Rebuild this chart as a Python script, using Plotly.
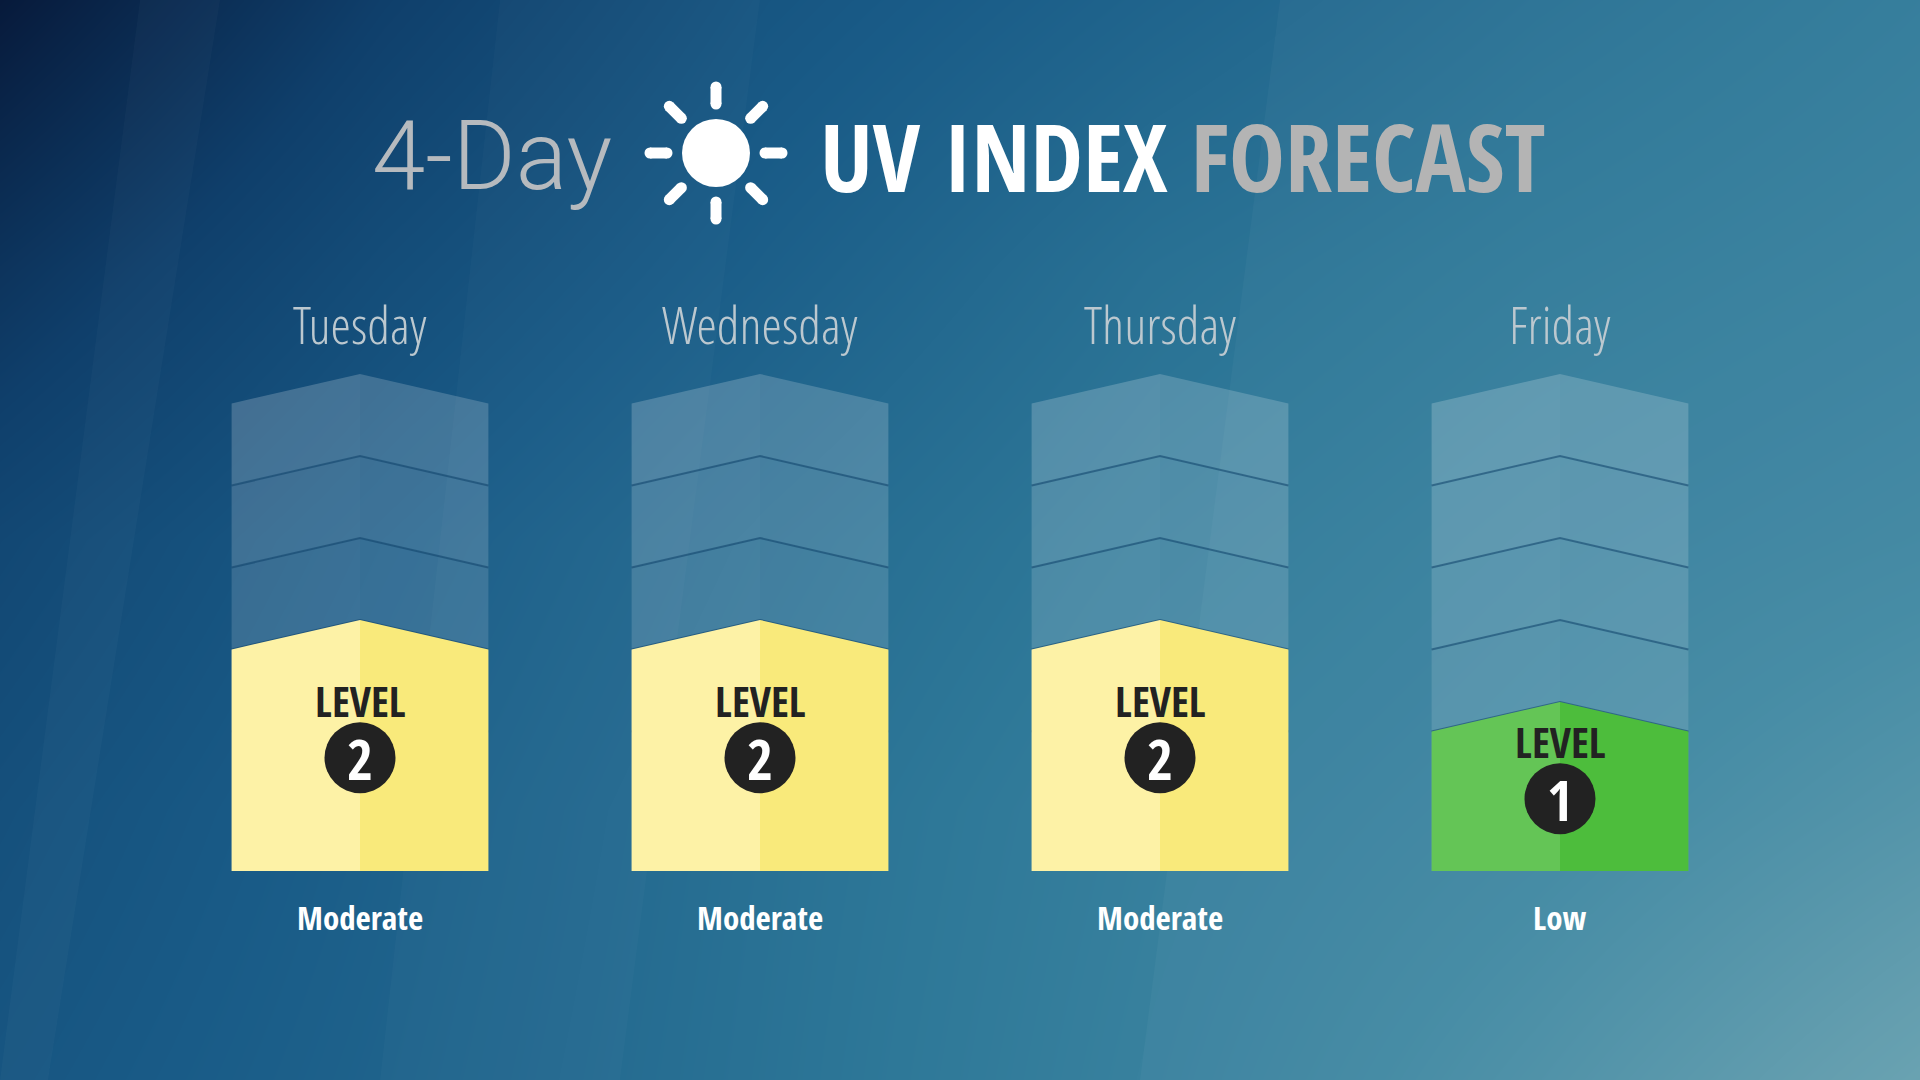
import numpy as np
import plotly.graph_objects as go

# values
days = ["Tuesday", "Wednesday", "Thursday", "Friday"]
uv_level = [2, 2, 2, 1]
risk = ["Moderate", "Moderate", "Moderate", "Low"]
max_level = 5

# left / right face colour of the filled block for each level
level_colors = {1: ("#64c556", "#4dbd3c"), 2: ("#fdf2a6", "#f9ea7b")}

NARROW = "Open Sans Condensed, Roboto Condensed, Liberation Sans Narrow, Roboto, sans-serif"
NARROW_LIGHT = "Open Sans Condensed Light, Roboto Condensed Light, Open Sans Condensed, sans-serif"

# geometry in level units (1 level = one block)
base = 0.70     # extra height under the level-1 shoulder
tip = 0.36      # how far the chevron point sits above the shoulders
half = 0.321    # half bar width in category units


def shoulder(k):
    return 0 if k == 0 else base + k


def apex(k):
    return 0 if k == 0 else base + k + tip


fig = go.Figure()

# background gradient
bg_x = np.linspace(-0.9, 3.9, 6)
bg_y = np.linspace(-2.55, 10.62, 5)
bg_z = [
    [0.36, 0.45, 0.56, 0.68, 0.80, 0.93],
    [0.32, 0.43, 0.55, 0.66, 0.73, 0.82],
    [0.26, 0.39, 0.51, 0.61, 0.68, 0.73],
    [0.14, 0.30, 0.43, 0.55, 0.62, 0.67],
    [0.00, 0.20, 0.36, 0.46, 0.55, 0.62],
]
fig.add_trace(go.Heatmap(
    x=bg_x, y=bg_y, z=bg_z, zsmooth="best", showscale=False, hoverinfo="skip",
    colorscale=[[0, "#071a3b"], [0.2, "#0f3f6b"], [0.4, "#195b87"],
                [0.6, "#2e7898"], [0.75, "#4189a3"], [1, "#74a8b4"]],
    zmin=0, zmax=1,
))

# faint diagonal light streaks
streaks = [
    ([-0.9, -0.78, -0.35, -0.55], [-2.55, -2.55, 10.62, 10.62], 0.025),
    ([1.95, 3.9, 3.9, 2.3], [-2.55, -2.55, 10.62, 10.62], 0.03),
    ([0.05, 0.65, 1.0, 0.35], [-2.55, -2.55, 10.62, 10.62], 0.02),
]
for sx, sy, a in streaks:
    fig.add_trace(go.Scatter(x=sx, y=sy, fill="toself", mode="lines", line_width=0,
                             fillcolor=f"rgba(255,255,255,{a})", hoverinfo="skip"))

for i, (day, lvl) in enumerate(zip(days, uv_level)):
    xl, xc, xr = i - half, i, i + half

    # empty translucent blocks up to the max level
    for k in range(1, max_level + 1):
        a = 0.06 + 0.025 * k
        lo_s, lo_a = shoulder(k - 1), apex(k - 1)
        hi_s, hi_a = shoulder(k), apex(k)
        fig.add_trace(go.Scatter(
            x=[xl, xl, xc, xc], y=[lo_s, hi_s, hi_a, lo_a], fill="toself", mode="lines",
            line_width=0, fillcolor=f"rgba(255,255,255,{a + 0.015:.3f})", hoverinfo="skip"))
        fig.add_trace(go.Scatter(
            x=[xc, xc, xr, xr], y=[lo_a, hi_a, hi_s, lo_s], fill="toself", mode="lines",
            line_width=0, fillcolor=f"rgba(255,255,255,{a:.3f})", hoverinfo="skip"))

    # thin dark chevron lines between blocks
    lx, ly = [], []
    for k in range(1, max_level):
        lx += [xl, xc, xr, None]
        ly += [shoulder(k), apex(k), shoulder(k), None]
    fig.add_trace(go.Scatter(x=lx, y=ly, mode="lines", hoverinfo="skip",
                             line=dict(color="rgba(14,66,106,0.55)", width=2)))

    # filled block for the forecast level
    c_left, c_right = level_colors[lvl]
    fig.add_trace(go.Scatter(
        x=[xl, xl, xc, xc], y=[0, shoulder(lvl), apex(lvl), 0], fill="toself", mode="lines",
        line_width=0, fillcolor=c_left, hoverinfo="skip"))
    fig.add_trace(go.Scatter(
        x=[xc, xc, xr, xr], y=[0, apex(lvl), shoulder(lvl), 0], fill="toself", mode="lines",
        line_width=0, fillcolor=c_right, hoverinfo="skip"))

    mid = apex(lvl) / 2
    fig.add_annotation(x=xc, y=mid + 0.55, text="<b>LEVEL</b>", showarrow=False,
                       yanchor="middle", font=dict(family=NARROW, size=42, color="#222222"))
    # black disc with the level number
    fig.add_trace(go.Scatter(x=[xc], y=[mid - 0.15], mode="markers", hoverinfo="skip",
                             marker=dict(size=71, color="#222222", line_width=0)))
    fig.add_annotation(x=xc, y=mid - 0.15, text=f"<b>{lvl}</b>", showarrow=False,
                       yanchor="middle", font=dict(family=NARROW, size=56, color="#ffffff"))

    fig.add_annotation(x=xc, y=6.67, text=day, showarrow=False, yanchor="middle",
                       font=dict(family=NARROW_LIGHT, weight=300, size=52, color="#bcc8cf"))
    fig.add_annotation(x=xc, y=-0.57, text=f"<b>{risk[i]}</b>", showarrow=False,
                       yanchor="middle", font=dict(family=NARROW, size=33, color="#ffffff"))

# sun icon (pixel overlay axes)
sun_cx, sun_cy, sun_r = 716, 153, 34
rx, ry, ex, ey = [], [], [], []
for ang in np.arange(0, 360, 45):
    t = np.deg2rad(ang)
    x0, y0 = sun_cx + 49 * np.cos(t), sun_cy + 49 * np.sin(t)
    x1, y1 = sun_cx + 66 * np.cos(t), sun_cy + 66 * np.sin(t)
    rx += [x0, x1, None]
    ry += [y0, y1, None]
    ex += [x0, x1]
    ey += [y0, y1]
fig.add_trace(go.Scatter(x=rx, y=ry, mode="lines", xaxis="x2", yaxis="y2", hoverinfo="skip",
                         line=dict(color="white", width=11)))
fig.add_trace(go.Scatter(x=ex, y=ey, mode="markers", xaxis="x2", yaxis="y2", hoverinfo="skip",
                         marker=dict(color="white", size=11, line_width=0)))
fig.add_shape(type="circle", xref="x2", yref="y2", x0=sun_cx - sun_r, x1=sun_cx + sun_r,
              y0=sun_cy - sun_r, y1=sun_cy + sun_r, fillcolor="white", line_width=0)

# title
fig.add_annotation(xref="paper", yref="paper", x=614 / 1920, y=0.856, xanchor="right",
                   yanchor="middle", text="4-Day", showarrow=False,
                   font=dict(family="Roboto", weight=300, size=96, color="#b6babe"))
fig.add_annotation(xref="paper", yref="paper", x=818 / 1920, y=0.856, xanchor="left",
                   yanchor="middle", showarrow=False,
                   text="<b>UV INDEX <span style='color:#b4b4b4'>FORECAST</span></b>",
                   font=dict(family=NARROW, size=94, color="#ffffff"))

fig.update_layout(
    width=1920, height=1080, margin=dict(l=0, r=0, t=0, b=0),
    showlegend=False, paper_bgcolor="#1d6288", plot_bgcolor="#1d6288",
    xaxis=dict(range=[-0.9, 3.9], visible=False, fixedrange=True),
    yaxis=dict(range=[-2.55, 10.62], visible=False, fixedrange=True),
    xaxis2=dict(range=[0, 1920], overlaying="x", visible=False, fixedrange=True),
    yaxis2=dict(range=[1080, 0], overlaying="y", visible=False, fixedrange=True),
)

fig.write_html("out.html", config={"displayModeBar": False},
               post_script="document.body.style.margin='0';")
